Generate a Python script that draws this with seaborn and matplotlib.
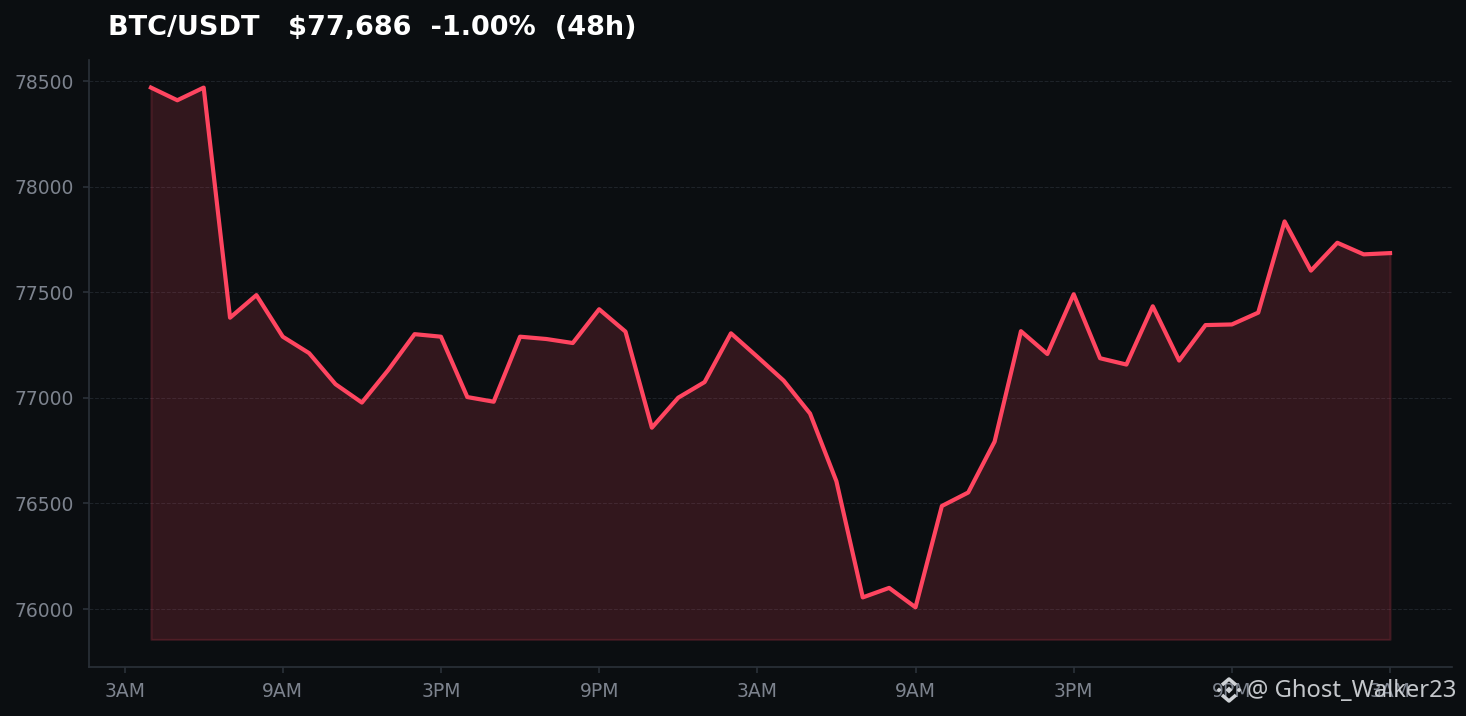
"""BTC/USDT 48h price chart, dark theme."""
import matplotlib
matplotlib.use("Agg")
import matplotlib.dates as mdates
import matplotlib.pyplot as plt
from matplotlib.lines import Line2D
from matplotlib.patches import Polygon
import pandas as pd
import seaborn as sns

# ------------------------------------------------------------------------------
# DATA
# ------------------------------------------------------------------------------
start_time = "2025-01-01 04:00"
prices = [
    78470, 78410, 78470, 77380, 77487, 77290, 77212, 77065, 76978, 77132,
    77302, 77290, 77004, 76982, 77290, 77279, 77260, 77420, 77314, 76859,
    77001, 77075, 77306, 77195, 77082, 76926, 76605, 76055, 76100, 76008,
    76488, 76552, 76793, 77316, 77208, 77491, 77188, 77158, 77434, 77177,
    77345, 77348, 77404, 77836, 77603, 77735, 77680, 77686,
]
fill_floor = 75856
y_ticks = [76000, 76500, 77000, 77500, 78000, 78500]
title_text = "BTC/USDT   $77,686  -1.00%  (48h)"
watermark = "@ Ghost_Walker23"

BG = "#0b0e11"
RED = "#ff4560"
SPINE = "#2b3139"
TICK = "#7d838e"
GRID = "#1e2329"

df = pd.DataFrame({"time": pd.date_range(start_time, periods=len(prices), freq="h"), "price": prices})

# ------------------------------------------------------------------------------
# PLOT
# ------------------------------------------------------------------------------
W, H, DPI = 1466, 716, 150
sns.set_theme(style="dark", rc={"lines.solid_capstyle": "projecting"})
fig, ax = plt.subplots(figsize=(W / DPI, H / DPI), dpi=DPI)
fig.patch.set_facecolor(BG)
ax.set_facecolor(BG)
fig.subplots_adjust(left=89 / W, right=1452 / W, top=1 - 60 / H, bottom=1 - 667 / H)

ax.fill_between(df["time"], df["price"], fill_floor, color="#f6465d", alpha=0.17, linewidth=1)
sns.lineplot(data=df, x="time", y="price", color=RED, linewidth=2, ax=ax)

ax.margins(x=0.05, y=0.05)
ax.set_xlabel("")
ax.set_ylabel("")
ax.set_yticks(y_ticks)
ax.xaxis.set_major_locator(mdates.HourLocator(byhour=[3, 9, 15, 21]))
ax.xaxis.set_major_formatter(lambda v, pos: mdates.num2date(v).strftime("%I%p").lstrip("0"))

ax.grid(axis="y", color=GRID, linestyle="--", linewidth=0.5)
ax.grid(axis="x", visible=False)
ax.set_axisbelow(True)
ax.tick_params(axis="both", colors=SPINE, labelcolor=TICK, labelsize=9, length=3, width=0.8, pad=4.2, bottom=True, left=True)
for side in ["top", "right"]:
    ax.spines[side].set_visible(False)
for side in ["left", "bottom"]:
    ax.spines[side].set_color(SPINE)
    ax.spines[side].set_linewidth(0.8)

fig.text(108 / W, 1 - 28 / H, title_text, color="white", fontsize=13, fontweight="bold", va="center", ha="left")

# watermark: logo + handle, sits on top of the last tick labels
WM = "#cfd2d6"
fig.text(1247 / W, 1 - 691 / H, watermark, color=WM, fontsize=11.4, family="Noto Sans", va="center", ha="left", alpha=0.95)


def px(x, y):
    return (x / W, 1 - y / H)


def diamond(x, y, r):
    fig.add_artist(Polygon([px(x - r, y), px(x, y - r), px(x + r, y), px(x, y + r)], closed=True,
                           transform=fig.transFigure, facecolor=WM, edgecolor="none"))


cx, cy = 1229, 690
diamond(cx, cy, 3.5)
diamond(cx - 10, cy, 2.5)
diamond(cx + 10, cy, 2.5)
for sy in (-1, 1):
    xs, ys = zip(px(cx - 7, cy + sy * 5), px(cx, cy + sy * 11), px(cx + 7, cy + sy * 5))
    fig.add_artist(Line2D(xs, ys, transform=fig.transFigure, color=WM, linewidth=1.7, solid_capstyle="butt"))

fig.savefig("out.png", dpi=DPI, facecolor=BG)
